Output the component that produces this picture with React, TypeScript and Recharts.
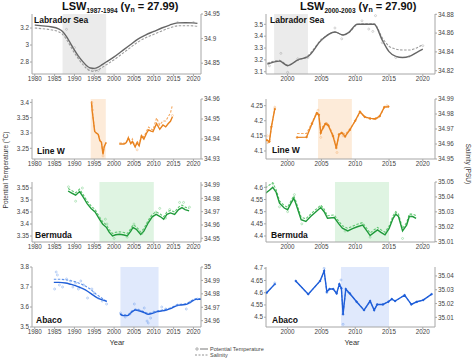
import { ComposedChart, Line, Scatter, XAxis, YAxis, ReferenceArea } from 'recharts'

// Labrador Sea, LSW 1987-1994
const labAYears = [1980, 1982, 1984, 1986, 1987, 1988, 1989, 1990, 1991, 1992, 1993, 1994, 1995, 1996, 1997, 1998, 2000, 2002, 2004, 2006, 2008, 2010, 2012, 2014, 2016, 2018, 2020, 2021]
const labATemp = [3.235, 3.225, 3.215, 3.19, 3.16, 3.1, 3.02, 2.94, 2.87, 2.81, 2.76, 2.73, 2.725, 2.74, 2.77, 2.8, 2.86, 2.93, 3.0, 3.07, 3.12, 3.16, 3.2, 3.235, 3.26, 3.262, 3.26, 3.255]
const labASal = [34.9216, 34.9199, 34.9181, 34.9138, 34.9086, 34.8983, 34.8845, 34.8707, 34.8587, 34.8483, 34.8397, 34.8345, 34.8337, 34.8363, 34.8414, 34.8466, 34.857, 34.869, 34.8811, 34.8931, 34.9018, 34.9087, 34.9156, 34.9216, 34.9259, 34.9262, 34.9259, 34.925]
const labARawYears = [1988, 1990, 1991, 1993.5, 1994.5, 1995.2, 1996, 2016, 2020]
const labARaw = [3.185, 2.97, 2.86, 2.72, 2.7, 2.71, 2.7, 3.265, 3.265]

// Labrador Sea, LSW 2000-2003
const labBYears = [1997.0, 1998.8, 2000.0, 2001.5, 2003.0, 2005.0, 2007.0, 2008.2, 2009.0, 2010.3, 2011.5, 2012.8, 2014.0, 2015.0, 2016.0, 2017.0, 2018.0, 2019.0, 2020.0]
const labBTemp = [3.165, 3.19, 3.151, 3.2, 3.227, 3.367, 3.435, 3.41, 3.43, 3.5, 3.5, 3.5, 3.367, 3.27, 3.23, 3.22, 3.23, 3.26, 3.29]
const labBSal = [34.828, 34.831, 34.826, 34.831, 34.836, 34.853, 34.861, 34.858, 34.86, 34.869, 34.87, 34.87, 34.855, 34.846, 34.843, 34.842, 34.842, 34.844, 34.848]
const labBRawYears = [1997.3, 1999.0, 2000.0, 2001.5, 2003.0, 2005.0, 2007.0, 2008.0, 2011.0, 2012.0, 2012.6, 2013.0, 2014.0, 2016.0, 2018.0, 2020.0]
const labBRaw = [3.15, 3.255, 3.095, 3.21, 3.22, 3.37, 3.469, 3.378, 3.53, 3.46, 3.44, 3.573, 3.345, 3.22, 3.23, 3.32]

// Line W
const lineWAYears = [1994.3, 1994.5, 1995.1, 1995.5, 1996.0, 1996.4, 1996.8, 1997.2, 1997.5, 1998.0, 2000, 2001.3, 2002.5, 2003.0, 2003.6, 2004.2, 2004.6, 2005.3, 2005.8, 2006.3, 2006.9, 2007.5, 2008.2, 2008.7, 2009.3, 2009.8, 2010.7, 2011.5, 2012.3, 2013.0, 2013.6, 2014.2, 2014.7]
const lineWATemp = [3.4, 3.37, 3.305, 3.3, 3.295, 3.275, 3.27, 3.23, 3.255, 3.27, null, 3.264, 3.264, 3.268, 3.283, 3.265, 3.272, 3.255, 3.268, 3.258, 3.291, 3.28, 3.3, 3.31, 3.306, 3.304, 3.331, 3.312, 3.326, 3.32, 3.33, 3.338, 3.353]
const lineWASal = [34.959, 34.954, 34.944, 34.943, 34.9425, 34.9395, 34.938, 34.933, 34.936, 34.938, null, 34.938, 34.938, 34.9375, 34.941, 34.938, 34.94, 34.936, 34.939, 34.937, 34.942, 34.941, 34.944, 34.946, 34.945, 34.9445, 34.9505, 34.947, 34.949, 34.949, 34.951, 34.953, 34.957]
const lineWARawYears = [1994.4, 1994.6, 1997.2, 2005.8, 2011.0, 2014.7]
const lineWARaw = [3.4, 3.375, 3.225, 3.245, 3.325, 3.357]

const lineWBYears = [1996.9, 1997.3, 1997.6, 1998.1, 2000, 2001.4, 2002.8, 2003.6, 2004.3, 2004.6, 2004.9, 2005.3, 2005.6, 2006.0, 2006.7, 2007.2, 2007.6, 2008.0, 2008.5, 2009.2, 2010.0, 2010.7, 2011.4, 2012.2, 2013.0, 2013.6, 2014.3, 2014.9]
const lineWBTemp = [4.136, 4.131, 4.18, 4.239, null, 4.145, 4.146, 4.19, 4.225, 4.22, 4.16, 4.18, 4.19, 4.185, 4.15, 4.11, 4.155, 4.16, 4.148, 4.17, 4.2, 4.23, 4.213, 4.208, 4.207, 4.215, 4.245, 4.247]
const lineWBSal = [34.9605, 34.961, 34.9714, 34.9835, null, 34.967, 34.967, 34.9744, 34.981, 34.9805, 34.9684, 34.9704, 34.9744, 34.9734, 34.9664, 34.9583, 34.9654, 34.968, 34.9664, 34.9698, 34.9754, 34.981, 34.978, 34.9766, 34.9764, 34.978, 34.9843, 34.985]
const lineWBRawYears = [1997.0, 1998.1, 2004.5, 2004.9, 2007.3, 2008.2, 2014.7]
const lineWBRaw = [4.15, 4.245, 4.235, 4.145, 4.095, 4.15, 4.25]

// Bermuda
const bermAYears = [1988.4, 1989.2, 1990.3, 1991.3, 1992.3, 1993.2, 1994.2, 1995.2, 1996.3, 1997.1, 1998.1, 1998.75, 1999.6, 2000.4, 2001.4, 2002.5, 2003.3, 2004.2, 2004.75, 2005.6, 2006.7, 2007.5, 2008.6, 2009.6, 2010.6, 2011.7, 2012.5, 2013.3, 2014.2, 2015.25, 2016.25, 2017.1, 2017.9, 2018.9]
const bermATemp = [3.5375, 3.53, 3.52, 3.535, 3.51, 3.485, 3.465, 3.45, 3.42, 3.4, 3.385, 3.366, 3.35, 3.355, 3.357, 3.354, 3.35, 3.37, 3.386, 3.378, 3.356, 3.37, 3.405, 3.43, 3.44, 3.43, 3.42, 3.44, 3.446, 3.44, 3.46, 3.468, 3.46, 3.455]
const bermASal = [34.9874, 34.986, 34.9842, 34.9869, 34.9824, 34.9779, 34.9743, 34.9716, 34.9662, 34.9626, 34.9599, 34.9565, 34.9536, 34.9545, 34.9549, 34.9543, 34.9536, 34.9572, 34.9601, 34.9587, 34.9547, 34.9572, 34.9635, 34.968, 34.9698, 34.968, 34.9662, 34.9698, 34.9709, 34.9698, 34.9734, 34.9749, 34.9734, 34.9725]
const bermARawYears = [1988.5, 1990.3, 1992.0, 1997.8, 1998.2, 2000.0, 2003.3, 2005.0, 2007.0, 2010.5, 2011.5, 2013.0, 2014.0, 2016.5, 2017.5, 2019.0]
const bermARaw = [3.555, 3.495, 3.55, 3.42, 3.4, 3.34, 3.345, 3.4, 3.36, 3.45, 3.465, 3.425, 3.46, 3.49, 3.49, 3.47]

const bermBYears = [1996.7, 1997.3, 1997.8, 1998.3, 1998.8, 1999.5, 2000.0, 2000.5, 2000.9, 2001.2, 2002.0, 2002.7, 2003.4, 2004.9, 2005.4, 2005.9, 2006.9, 2007.6, 2008.1, 2008.9, 2009.6, 2010.3, 2011.1, 2011.8, 2012.2, 2012.8, 2013.3, 2013.8, 2014.4, 2015.0, 2015.6, 2016.0, 2016.4, 2017.0, 2017.6, 2018.0, 2018.5, 2019.0]
const bermBTemp = [4.575, 4.588, 4.6, 4.58, 4.535, 4.515, 4.508, 4.535, 4.555, 4.535, 4.467, 4.46, 4.48, 4.517, 4.5, 4.473, 4.476, 4.449, 4.432, 4.421, 4.43, 4.438, 4.445, 4.418, 4.402, 4.415, 4.425, 4.415, 4.405, 4.43, 4.473, 4.49, 4.48, 4.421, 4.445, 4.48, 4.48, 4.473]
const bermBSal = [35.046, 35.048, 35.0495, 35.0448, 35.0374, 35.0342, 35.0331, 35.0374, 35.0407, 35.0374, 35.0264, 35.0253, 35.0285, 35.0345, 35.0318, 35.0274, 35.0279, 35.0235, 35.0207, 35.0189, 35.0204, 35.0217, 35.0228, 35.0184, 35.0158, 35.018, 35.0196, 35.018, 35.0163, 35.0204, 35.0274, 35.0301, 35.0285, 35.0189, 35.0228, 35.0285, 35.0285, 35.0274]
const bermBRawYears = [1997.8, 1998.8, 2000.0, 2001.0, 2002.1, 2005.0, 2008.5, 2012.2, 2016.0, 2017.0, 2018.2]
const bermBRaw = [4.615, 4.52, 4.5, 4.57, 4.45, 4.52, 4.42, 4.395, 4.495, 4.39, 4.485]

// Abaco
const abacoAYears = [1984.8, 1986.1, 1987.75, 1989.0, 1990.25, 1991.5, 1992.75, 1994.0, 1995.25, 1996.5, 1998.2, 2000, 2001.5, 2002.3, 2003.4, 2004.4, 2005.4, 2006.5, 2007.6, 2008.6, 2009.8, 2010.9, 2011.9, 2013.2, 2014.4, 2015.7, 2016.9, 2018.2, 2019.4, 2020.7, 2021.9]
const abacoATemp = [3.723, 3.723, 3.72, 3.714, 3.707, 3.697, 3.686, 3.669, 3.652, 3.639, 3.628, null, 3.564, 3.557, 3.557, 3.574, 3.585, 3.58, 3.572, 3.564, 3.569, 3.577, 3.58, 3.585, 3.593, 3.606, 3.61, 3.613, 3.626, 3.638, 3.638]
const abacoASal = [34.9909, 34.9909, 34.9905, 34.9898, 34.9889, 34.9875, 34.9858, 34.9835, 34.9803, 34.9777, 34.974, null, 34.9654, 34.9644, 34.9644, 34.967, 34.9686, 34.9678, 34.9666, 34.9654, 34.9662, 34.9674, 34.9678, 34.9686, 34.9698, 34.9717, 34.9723, 34.9728, 34.9747, 34.9765, 34.9765]
const abacoARawYears = [1985.0, 1985.4, 1985.7, 1986.2, 1987.0, 1988.0, 1989.0, 1989.6, 1990.3, 1991.0, 1991.6, 1992.3, 1993.3, 1994.4, 1995.0, 1996.0, 1997.0, 1998.1, 2001.6, 2002.8, 2004.0, 2005.1, 2006.2, 2007.6, 2008.3, 2008.6, 2009.2, 2010.0, 2012.0, 2013.0, 2016.0, 2018.2, 2019.2, 2021.0]
const abacoARaw = [3.69, 3.775, 3.76, 3.71, 3.7, 3.74, 3.73, 3.7, 3.72, 3.69, 3.73, 3.71, 3.645, 3.69, 3.67, 3.645, 3.63, 3.615, 3.57, 3.55, 3.565, 3.615, 3.585, 3.595, 3.53, 3.52, 3.545, 3.575, 3.6, 3.59, 3.61, 3.59, 3.625, 3.64]

const abacoBYears = [1996.9, 1998.1, 2000, 2001.2, 2003.05, 2004.8, 2005.4, 2005.8, 2006.2, 2006.75, 2007.25, 2007.65, 2007.95, 2008.2, 2008.6, 2009.2, 2010.2, 2011.3, 2012.2, 2012.8, 2013.25, 2014.1, 2014.9, 2015.4, 2015.9, 2017.3, 2018.3, 2019.1, 2020.05, 2021.3]
const abacoBTemp = [4.6, 4.635, null, 4.648, 4.594, 4.648, 4.689, 4.604, 4.615, 4.615, 4.597, 4.635, 4.618, 4.512, 4.615, 4.597, 4.563, 4.529, 4.566, 4.529, 4.552, 4.552, 4.563, 4.574, 4.566, 4.59, 4.552, 4.563, 4.57, 4.594]
const abacoBSal = [35.0278, 35.034, null, 35.0363, 35.0267, 35.0363, 35.0429, 35.0285, 35.0305, 35.0305, 35.0273, 35.034, 35.031, 35.0127, 35.0296, 35.0269, 35.0216, 35.0152, 35.0218, 35.0152, 35.0193, 35.0193, 35.0216, 35.0235, 35.0218, 35.026, 35.0193, 35.0212, 35.0225, 35.0267]
const abacoBRawYears = [1998.1, 2005.4, 2005.8, 2007.9, 2008.2]
const abacoBRaw = [4.64, 4.7, 4.6, 4.652, 4.471]

const leftYearTicks = [1980, 1985, 1990, 1995, 2000, 2005, 2010, 2015, 2020]
const rightYearTicks = [2000, 2005, 2010, 2015, 2020]

const COLS = [
  { left: 0, yl: 32, yr: 36, domain: [1979.3, 2021.9], ticks: leftYearTicks },
  { left: 236, yl: 30, yr: 36, domain: [1996.8, 2021.8], ticks: rightYearTicks },
]
const ROW_TOPS = [14, 99, 182, 267]
const PLOT_W = 169
const PLOT_H = 60

const gray = { temp: '#666666', sal: '#9c9c9c', shade: '#ebebeb' }
const orange = { temp: '#e8821e', sal: '#f4a860', shade: '#fdebd9' }
const green = { temp: '#1f9a3a', sal: '#62c773', shade: '#dff4e2' }
const blue = { temp: '#1f5ed8', sal: '#5f93ec', shade: '#e0e9fc' }

const tickStyle = { fontSize: 6.3, fill: '#444' }
const axisStroke = '#a6a6a6'

function Panel(p: any) {
  const g = COLS[p.col]
  const top = ROW_TOPS[p.row]
  const tData = p.years.map((x: number, i: number) => ({ x, y: p.temp[i] }))
  const sData = p.years.map((x: number, i: number) => ({ x, y: p.sal[i] }))
  const rData = p.rawYears.map((x: number, i: number) => ({ x, y: p.raw[i] }))
  const c = p.c
  const curve = p.curve || 'linear'
  return (
    <div style={{ position: 'absolute', left: g.left, top: top - 6 }}>
      <ComposedChart width={g.yl + PLOT_W + g.yr} height={6 + PLOT_H + 14} margin={{ top: 6, right: 0, bottom: 0, left: 0 }}>
        <XAxis type="number" dataKey="x" domain={g.domain} ticks={g.ticks} interval={0} allowDataOverflow height={14}
          tick={tickStyle} tickSize={2} tickMargin={1} axisLine={{ stroke: axisStroke }} tickLine={{ stroke: axisStroke }} />
        <YAxis yAxisId="t" type="number" domain={p.tDomain} ticks={p.tTicks} interval={0} allowDataOverflow width={g.yl}
          tick={tickStyle} tickSize={2} tickMargin={1} axisLine={{ stroke: axisStroke }} tickLine={{ stroke: axisStroke }} />
        <YAxis yAxisId="s" orientation="right" type="number" domain={p.sDomain} ticks={p.sTicks} interval={0} allowDataOverflow width={g.yr}
          tick={tickStyle} tickSize={2} tickMargin={1} axisLine={{ stroke: axisStroke }} tickLine={{ stroke: axisStroke }} />
        <ReferenceArea yAxisId="t" x1={p.shade[0]} x2={p.shade[1]} fill={c.shade} fillOpacity={1} stroke="none" />
        <Line yAxisId="s" data={sData} dataKey="y" type={curve} stroke={c.sal} strokeWidth={1.1} strokeDasharray="2.5 1.5"
          dot={false} activeDot={false} isAnimationActive={false} />
        <Line yAxisId="t" data={tData} dataKey="y" type={curve} stroke={c.temp} strokeWidth={1.4}
          dot={p.dots ? { r: 0.9, fill: c.temp, stroke: c.temp, strokeWidth: 0.5 } : false} activeDot={false} isAnimationActive={false} />
        <Scatter yAxisId="t" data={rData} dataKey="y" isAnimationActive={false}
          shape={(s: any) => <circle cx={s.cx} cy={s.cy} r={1} fill="none" stroke={c.sal} strokeOpacity={0.8} strokeWidth={0.5} />} />
      </ComposedChart>
    </div>
  )
}

export default function App() {
  return (
    <div style={{ position: 'absolute', left: 0, top: 0, width: 474, height: 361, background: '#fff', fontFamily: '"Liberation Sans", Arial, sans-serif', overflow: 'hidden' }}>
      <Panel col={0} row={0} c={gray} curve="monotone" years={labAYears} temp={labATemp} sal={labASal} rawYears={labARawYears} raw={labARaw}
        tDomain={[2.659, 3.365]} tTicks={[2.8, 3, 3.2]} sDomain={[34.828, 34.95]} sTicks={[34.85, 34.9, 34.95]} shade={[1987, 1998]} />
      <Panel col={1} row={0} c={gray} curve="monotone" years={labBYears} temp={labBTemp} sal={labBSal} rawYears={labBRawYears} raw={labBRaw}
        tDomain={[3.081, 3.587]} tTicks={[3.1, 3.2, 3.3, 3.4, 3.5]} sDomain={[34.8165, 34.8803]} sTicks={[34.82, 34.84, 34.86, 34.88]} shade={[1998, 2003]} />
      <Panel col={0} row={1} c={orange} years={lineWAYears} temp={lineWATemp} sal={lineWASal} rawYears={lineWARawYears} raw={lineWARaw}
        tDomain={[3.215, 3.411]} tTicks={[3.25, 3.3, 3.35, 3.4]} sDomain={[34.93, 34.96]} sTicks={[34.93, 34.94, 34.95, 34.96]} shade={[1994.1, 1997.9]} />
      <Panel col={1} row={1} c={orange} dots years={lineWBYears} temp={lineWBTemp} sal={lineWBSal} rawYears={lineWBRawYears} raw={lineWBRaw}
        tDomain={[4.0735, 4.272]} tTicks={[4.1, 4.15, 4.2, 4.25]} sDomain={[34.95, 34.99]} sTicks={[34.95, 34.96, 34.97, 34.98, 34.99]} shade={[2004.5, 2009.5]} />
      <Panel col={0} row={2} c={green} years={bermAYears} temp={bermATemp} sal={bermASal} rawYears={bermARawYears} raw={bermARaw}
        tDomain={[3.325, 3.575]} tTicks={[3.35, 3.4, 3.45, 3.5, 3.55]} sDomain={[34.9472, 34.9923]} sTicks={[34.95, 34.96, 34.97, 34.98, 34.99]} shade={[1996.3, 2010]} />
      <Panel col={1} row={2} c={green} years={bermBYears} temp={bermBTemp} sal={bermBSal} rawYears={bermBRawYears} raw={bermBRaw}
        tDomain={[4.3754, 4.622]} tTicks={[4.4, 4.45, 4.5, 4.55, 4.6]} sDomain={[35.0098, 35.05]} sTicks={[35.01, 35.02, 35.03, 35.04, 35.05]} shade={[2007, 2015]} />
      <Panel col={0} row={3} c={blue} curve="monotone" years={abacoAYears} temp={abacoATemp} sal={abacoASal} rawYears={abacoARawYears} raw={abacoARaw}
        tDomain={[3.5, 3.8]} tTicks={[3.5, 3.6, 3.7, 3.8]} sDomain={[34.9553, 35.0]} sTicks={[34.96, 34.97, 34.98, 34.99, 35]} shade={[2001.6, 2011.2]} />
      <Panel col={1} row={3} c={blue} dots years={abacoBYears} temp={abacoBTemp} sal={abacoBSal} rawYears={abacoBRawYears} raw={abacoBRaw}
        tDomain={[4.46, 4.705]} tTicks={[4.5, 4.55, 4.6, 4.65, 4.7]} sDomain={[35.003, 35.0465]} sTicks={[35.01, 35.02, 35.03, 35.04]} shade={[2007.9, 2015]} />

      <svg width={474} height={361} style={{ position: 'absolute', left: 0, top: 0, pointerEvents: 'none' }}>
        <g fontWeight="bold" fill="#111">
          <text x={62} y={10} fontSize={11}>
            LSW<tspan fontSize={6.5} dy={3}>1987-1994</tspan><tspan dy={-3}> (γ</tspan><tspan fontSize={7} dy={2}>n</tspan><tspan dy={-2}> = 27.99)</tspan>
          </text>
          <text x={300} y={10} fontSize={11}>
            LSW<tspan fontSize={6.5} dy={3}>2000-2003</tspan><tspan dy={-3}> (γ</tspan><tspan fontSize={7} dy={2}>n</tspan><tspan dy={-2}> = 27.90)</tspan>
          </text>
        </g>
        <g fontWeight="bold" fontSize={8.5} fill="#111">
          <text x={34} y={23}>Labrador Sea</text>
          <text x={270} y={23}>Labrador Sea</text>
          <text x={37} y={154}>Line W</text>
          <text x={272} y={153}>Line W</text>
          <text x={35} y={238}>Bermuda</text>
          <text x={271} y={238}>Bermuda</text>
          <text x={36} y={323}>Abaco</text>
          <text x={272} y={323}>Abaco</text>
        </g>
        <text x={0} y={0} fontSize={6.5} fill="#333" textAnchor="middle" transform="translate(7.5,170) rotate(-90)">Potential Temperature (°C)</text>
        <text x={0} y={0} fontSize={6.5} fill="#333" textAnchor="middle" transform="translate(466,164) rotate(90)">Salinity (PSU)</text>
        <text x={117} y={345} fontSize={7.5} fill="#333" textAnchor="middle">Year</text>
        <text x={352} y={345} fontSize={7.5} fill="#333" textAnchor="middle">Year</text>
        <circle cx={197} cy={349} r={1.2} fill="none" stroke="#777" strokeWidth={0.6} />
        <line x1={200} y1={349} x2={208} y2={349} stroke="#555" strokeWidth={0.8} />
        <text x={210} y={351} fontSize={5.5} fill="#444">Potential Temperature</text>
        <line x1={195} y1={355} x2={208} y2={355} stroke="#777" strokeWidth={0.8} strokeDasharray="2 1.5" />
        <text x={210} y={357} fontSize={5.5} fill="#444">Salinity</text>
      </svg>
    </div>
  )
}
